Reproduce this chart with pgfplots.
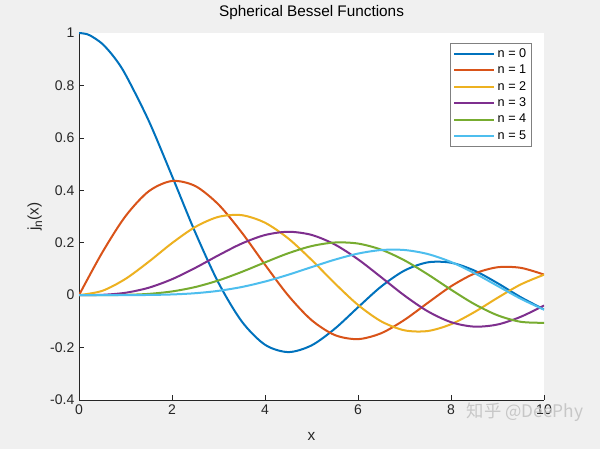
\documentclass[border=0pt]{standalone}
\usepackage{fontspec}
\setmainfont{Liberation Sans}
\newfontfamily\cjk{Noto Sans CJK SC}
\usepackage{pgfplots}
\usepackage{pgfplotstable}
\pgfplotsset{compat=1.18}
\definecolor{bgc}{RGB}{240,240,240}
\definecolor{axc}{RGB}{38,38,38}
\definecolor{c1}{rgb}{0,0.447,0.741}
\definecolor{c2}{rgb}{0.85,0.325,0.098}
\definecolor{c3}{rgb}{0.929,0.694,0.125}
\definecolor{c4}{rgb}{0.494,0.184,0.556}
\definecolor{c5}{rgb}{0.466,0.674,0.188}
\definecolor{c6}{rgb}{0.301,0.745,0.933}
\pgfplotstableread{
x     j0
0     1.000000
0.125 0.997398
0.25  0.989616
0.5   0.958851
0.75  0.908852
1.0   0.841471
1.5   0.664997
2.0   0.454649
2.5   0.239389
3.0   0.047040
3.5   -0.100224
4.0   -0.189201
4.5   -0.217229
5.0   -0.191785
5.5   -0.128280
6.0   -0.046569
6.5   0.033095
7.0   0.093855
7.5   0.125067
8.0   0.123670
8.5   0.093940
9.0   0.045791
9.5   -0.007911
10.0  -0.054402
}\besselzero
\pgfplotstableread{
x    j1        j2        j3        j4        j5
0    0.000000  0.000000  0.000000  0.000000  0.000000
0.5  0.162537  0.016371  0.001174  0.000065  0.000003
1.0  0.301169  0.062036  0.009007  0.001011  0.000093
1.5  0.396173  0.127349  0.028324  0.004832  0.000670
2.0  0.435398  0.198448  0.060722  0.014079  0.002635
2.5  0.416213  0.260067  0.103921  0.030912  0.007358
3.0  0.345677  0.298637  0.152051  0.056149  0.016396
3.5  0.238924  0.305016  0.196813  0.088610  0.031041
4.0  0.116111  0.276284  0.229244  0.124893  0.051765
4.5  -0.001430 0.216276  0.241737  0.159759  0.077781
5.0  -0.095089 0.134732  0.229821  0.187017  0.106810
5.5  -0.152173 0.045276  0.193333  0.200784  0.135223
6.0  -0.167790 -0.037326 0.136685  0.196792  0.158503
6.5  -0.145153 -0.100089 0.068161  0.173493  0.172060
7.0  -0.094292 -0.134266 -0.001612 0.132654  0.172167
7.5  -0.029542 -0.136884 -0.061714 0.079284  0.156855
8.0  0.033646  -0.111053 -0.103054 0.020881  0.126545
8.5  0.081877  -0.065042 -0.120137 -0.033894 0.084249
9.0  0.106325  -0.010349 -0.112074 -0.076820 0.035254
9.5  0.104133  0.040795  -0.082662 -0.101704 -0.013689
10.0 0.078467  0.077942  -0.039496 -0.105589 -0.055534
}\bessel
\begin{document}
\begin{tikzpicture}
\fill[bgc] (0,0) rectangle (450pt,336.75pt);
\begin{axis}[
  at={(59.25pt,36.75pt)}, anchor=south west,
  scale only axis, width=348.75pt, height=275.25pt,
  xmin=0, xmax=10, ymin=-0.4, ymax=1,
  axis background/.style={fill=white},
  axis lines*=left,
  axis line style={axc, line width=0.5pt},
  tick align=inside,
  major tick length=3.5pt,
  tick style={axc, line width=0.5pt},
  xtick={0,2,4,6,8,10},
  ytick={-0.4,-0.2,0,0.2,0.4,0.6,0.8,1},
  /pgf/number format/assume math mode=true,
  ticklabel style={font=\fontsize{10.5}{12}\selectfont, text=axc},
  title={Spherical Bessel Functions},
  title style={font=\fontsize{11.5}{13}\selectfont, at={(axis description cs:0.5,1.035)}, anchor=center},
  xlabel={x},
  ylabel={j\raisebox{-0.45ex}{\fontsize{9}{10}\selectfont n}(x)},
  every axis x label/.style={at={(axis description cs:0.5,-0.098)}, anchor=center, font=\fontsize{11.5}{13}\selectfont, text=axc},
  every axis y label/.style={at={(axis description cs:-0.095,0.5)}, rotate=90, anchor=center, font=\fontsize{11.5}{13}\selectfont, text=axc},
  legend style={at={(0.974,0.973)}, anchor=north east, draw=black!50, line width=0.5pt, font=\fontsize{9.5}{11}\selectfont, fill=white, inner sep=2pt, row sep=0.2pt},
  legend cell align=left,
  legend image code/.code={\draw[#1] (0pt,0pt) -- (30pt,0pt);},
]
\addplot[c1, line width=1.5pt, smooth] table[x=x, y=j0] {\besselzero};
\addplot[c2, line width=1.5pt, smooth] table[x=x, y=j1] {\bessel};
\addplot[c3, line width=1.5pt, smooth] table[x=x, y=j2] {\bessel};
\addplot[c4, line width=1.5pt, smooth] table[x=x, y=j3] {\bessel};
\addplot[c5, line width=1.5pt, smooth] table[x=x, y=j4] {\bessel};
\addplot[c6, line width=1.5pt, smooth] table[x=x, y=j5] {\bessel};
\legend{n = 0, n = 1, n = 2, n = 3, n = 4, n = 5}
\end{axis}
\node[font=\cjk\fontsize{13}{15}\selectfont, text=black!22] at (393.75pt,27.75pt) {知乎 @DeePhy};
\end{tikzpicture}
\end{document}
